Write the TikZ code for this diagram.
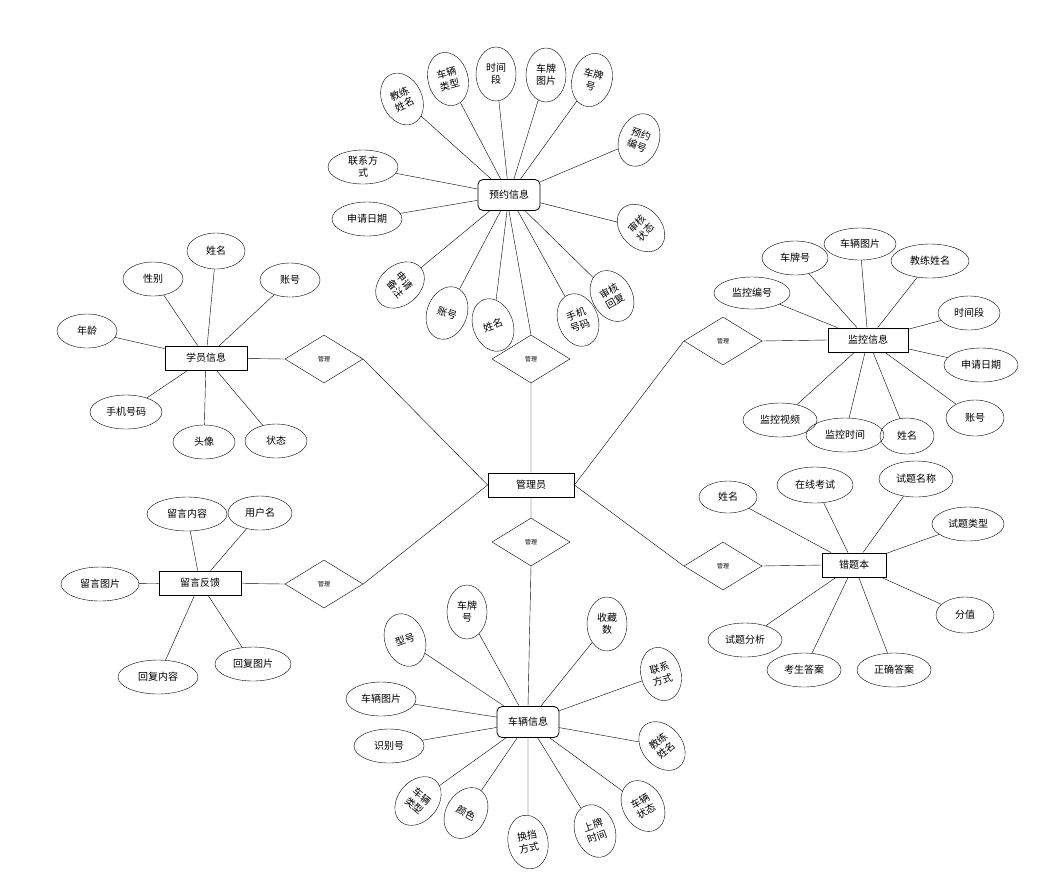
\documentclass[tikz,border=0pt]{standalone}
\usepackage{fontspec}
\newfontfamily\cjk{Noto Sans CJK SC}
\usetikzlibrary{shapes.geometric}
\begin{document}
\begin{tikzpicture}[x=1pt,y=-1pt,font=\cjk\fontsize{10}{12}\selectfont,
 ent/.style={draw,rectangle,minimum width=#1,minimum height=24,inner sep=1pt,line width=0.8pt},
 rent/.style={draw,rectangle,rounded corners=5pt,minimum width=62,minimum height=31,inner sep=1pt,line width=0.8pt},
 rel/.style={draw,diamond,aspect=1.6,minimum width=78,minimum height=48,inner sep=0pt,font=\cjk\fontsize{6}{7}\selectfont},
 att/.style={draw,ellipse,minimum width=#1,minimum height=34,inner sep=0pt},
 att/.default=70,
 va/.style={draw,ellipse,minimum width=40,minimum height=54,inner sep=0pt,align=center,rotate=#1},
 va/.default=0]
\useasboundingbox (0,0) rectangle (1043,879);
% entities
\node[rent] (yy) at (509,195) {预约信息};
\node[ent=82] (xy) at (206,358) {学员信息};
\node[ent=82] (ly) at (200,583) {留言反馈};
\node[ent=86] (gl) at (531,485) {管理员};
\node[ent=80] (jk) at (868,340) {监控信息};
\node[ent=64] (ct) at (854,565) {错题本};
\node[rent] (cl) at (528,722) {车辆信息};
% relations
\node[rel] (r1) at (324,359) {管理};
\node[rel] (r2) at (531,359) {管理};
\node[rel] (r3) at (723,341) {管理};
\node[rel] (r4) at (531,542) {管理};
\node[rel] (r5) at (723,566) {管理};
\node[rel] (r6) at (324,584) {管理};
\draw (xy)--(r1.west) (r1.east)--(gl.west);
\draw (yy.south)--(r2.north) (r2.south)--(gl.north);
\draw (gl.east)--(r3.west) (r3.east)--(jk.west);
\draw (gl.south)--(r4.north) (r4.south)--(cl.north);
\draw (gl.east)--(r5.west) (r5.east)--(ct.west);
\draw (ly)--(r6.west) (r6.east)--(gl.west);
% 预约信息 attributes
\node[va=25] (y1) at (402,99) {教练\\姓名};
\node[va=15] (y2) at (448,79) {车辆\\类型};
\node[va] (y3) at (496,74) {时间\\段};
\node[va] (y4) at (546,75) {车牌\\图片};
\node[va=-15] (y5) at (592,80) {车牌\\号};
\node[va=-20] (y6) at (639,140) {预约\\编号};
\node[att,align=center] (y7) at (363,167) {联系方\\式};
\node[att] (y8) at (367,219) {申请日期};
\node[va=45] (y9) at (641,228) {审核\\状态};
\node[va=-50] (y10) at (400,285) {申请\\备注};
\node[va=-20] (y11) at (447,313) {账号};
\node[va=20] (y12) at (493,325) {姓名};
\node[va=20] (y13) at (578,320) {手机\\号码};
\node[va=30] (y14) at (612,296) {审核\\回复};
\foreach \a in {y1,y2,y3,y4,y5,y10,y11,y12,y13,y14} \draw (yy.center)++(0,0) (yy)--(\a);
\foreach \a in {y6,y7,y8,y9} \draw (yy)--(\a);
% 学员信息
\node[att=60] (x1) at (87,331) {年龄};
\node[att=60] (x2) at (153,279) {性别};
\node[att=58,minimum height=36] (x3) at (216,251) {姓名};
\node[att=60] (x4) at (290,280) {账号};
\node[att=72] (x5) at (126,412) {手机号码};
\node[att=62] (x6) at (204,442) {头像};
\node[att=62] (x7) at (276,441) {状态};
\foreach \a in {x1,x2,x3,x4,x5,x6,x7} \draw (xy)--(\a);
% 留言反馈
\node[att=80] (l1) at (187,514) {留言内容};
\node[att=64] (l2) at (260,513) {用户名};
\node[att=78] (l3) at (100,584) {留言图片};
\node[att=80] (l4) at (158,677) {回复内容};
\node[att=76] (l5) at (253,664) {回复图片};
\foreach \a in {l1,l2,l3,l4,l5} \draw (ly)--(\a);
% 监控信息
\node[att=66] (j1) at (795,258) {车牌号};
\node[att=72,minimum height=32] (j2) at (860,244) {车辆图片};
\node[att=78] (j3) at (930,261) {教练姓名};
\node[att=76,minimum height=32] (j4) at (752,293) {监控编号};
\node[att=62] (j5) at (969,313) {时间段};
\node[att=74] (j6) at (981,365) {申请日期};
\node[att=74] (j7) at (780,420) {监控视频};
\node[att=78] (j8) at (845,435) {监控时间};
\node[att=54,minimum height=36] (j9) at (907,436) {姓名};
\node[att=58,minimum height=36] (j10) at (975,418) {账号};
\foreach \a in {j1,j2,j3,j4,j5,j6,j7,j8,j9,j10} \draw (jk)--(\a);
% 错题本
\node[att=58,minimum height=32] (c1) at (728,497) {姓名};
\node[att=76,minimum height=36] (c2) at (815,485) {在线考试};
\node[att=74,minimum height=36] (c3) at (916,479) {试题名称};
\node[att=72] (c4) at (968,524) {试题类型};
\node[att=58,minimum height=36] (c5) at (965,615) {分值};
\node[att=74] (c6) at (745,640) {试题分析};
\node[att=74] (c7) at (804,670) {考生答案};
\node[att=74] (c8) at (894,670) {正确答案};
\foreach \a in {c1,c2,c3,c4,c5,c6,c7,c8} \draw (ct)--(\a);
% 车辆信息
\node[va=20] (v1) at (405,640) {型号};
\node[va] (v2) at (467,612) {车牌\\号};
\node[va] (v3) at (607,624) {收藏\\数};
\node[va=15] (v4) at (661,674) {联系\\方式};
\node[att=70] (v5) at (381,699) {车辆图片};
\node[att=70] (v6) at (389,746) {识别号};
\node[va=40] (v7) at (662,746) {教练\\姓名};
\node[va=-40] (v8) at (418,801) {车辆\\类型};
\node[va=-30] (v9) at (466,813) {颜色};
\node[va=10] (v10) at (528,842) {换挡\\方式};
\node[va=20] (v11) at (595,831) {上牌\\时间};
\node[va=30] (v12) at (643,806) {车辆\\状态};
\foreach \a in {v1,v2,v3,v4,v5,v6,v7,v8,v9,v10,v11,v12} \draw (cl)--(\a);
\end{tikzpicture}
\end{document}
